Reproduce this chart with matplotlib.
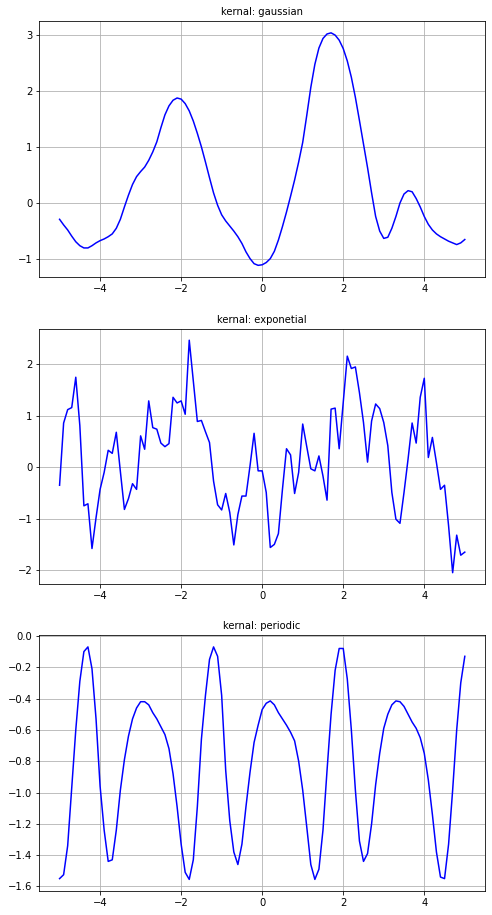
import numpy as np
import matplotlib
matplotlib.use("Agg")
import matplotlib.pyplot as plt

# sample x grid (same for all three panels)
x = np.linspace(-5, 5, 101)

# values
gaussian = [-0.29, -0.39, -0.48, -0.59, -0.69, -0.76, -0.80, -0.80, -0.76, -0.71,
            -0.67, -0.64, -0.60, -0.55, -0.45, -0.29, -0.07, 0.14, 0.33, 0.47,
            0.56, 0.64, 0.76, 0.91, 1.09, 1.34, 1.57, 1.73, 1.83, 1.87,
            1.85, 1.77, 1.64, 1.46, 1.24, 1.00, 0.73, 0.45, 0.18, -0.04,
            -0.21, -0.32, -0.41, -0.50, -0.60, -0.72, -0.87, -0.99, -1.08, -1.11,
            -1.10, -1.06, -0.99, -0.86, -0.66, -0.42, -0.16, 0.12, 0.41, 0.73,
            1.08, 1.56, 2.06, 2.47, 2.76, 2.93, 3.01, 3.03, 2.99, 2.90,
            2.75, 2.53, 2.24, 1.88, 1.47, 1.05, 0.63, 0.18, -0.24, -0.50,
            -0.63, -0.61, -0.45, -0.24, 0.00, 0.16, 0.22, 0.20, 0.08, -0.07,
            -0.24, -0.38, -0.48, -0.55, -0.60, -0.64, -0.68, -0.71, -0.74, -0.71,
            -0.65]

exponential = [-0.35, 0.86, 1.12, 1.16, 1.75, 0.81, -0.75, -0.71, -1.58, -0.98,
               -0.43, -0.10, 0.33, 0.27, 0.68, -0.08, -0.82, -0.61, -0.32, -0.43,
               0.61, 0.35, 1.29, 0.77, 0.74, 0.47, 0.40, 0.46, 1.36, 1.25,
               1.29, 1.03, 2.47, 1.68, 0.89, 0.91, 0.69, 0.48, -0.27, -0.73,
               -0.83, -0.51, -0.88, -1.51, -0.92, -0.56, -0.56, 0.03, 0.66, -0.07,
               -0.07, -0.49, -1.56, -1.50, -1.29, -0.43, 0.36, 0.24, -0.51, -0.10,
               0.84, 0.40, -0.03, -0.07, 0.22, -0.17, -0.64, 1.13, 1.15, 0.36,
               1.26, 2.16, 1.92, 1.95, 1.45, 0.87, 0.10, 0.90, 1.23, 1.14,
               0.87, 0.42, -0.49, -1.01, -1.09, -0.49, 0.16, 0.86, 0.47, 1.36,
               1.73, 0.19, 0.58, 0.09, -0.43, -0.35, -1.14, -2.05, -1.32, -1.71,
               -1.65]

periodic = [-1.55, -1.525, -1.34, -0.97, -0.60, -0.29, -0.10, -0.07, -0.21, -0.53,
            -0.96, -1.24, -1.44, -1.43, -1.24, -0.985, -0.79, -0.64, -0.53, -0.46,
            -0.42, -0.42, -0.44, -0.49, -0.53, -0.58, -0.63, -0.72, -0.88, -1.09,
            -1.33, -1.51, -1.555, -1.43, -1.09, -0.66, -0.38, -0.15, -0.07, -0.13,
            -0.38, -0.86, -1.18, -1.38, -1.46, -1.33, -1.09, -0.87, -0.68, -0.57,
            -0.47, -0.43, -0.415, -0.44, -0.49, -0.53, -0.57, -0.615, -0.67, -0.80,
            -0.985, -1.22, -1.46, -1.555, -1.49, -1.24, -0.86, -0.50, -0.22, -0.08,
            -0.08, -0.275, -0.60, -0.985, -1.31, -1.44, -1.39, -1.20, -0.95, -0.75,
            -0.59, -0.50, -0.44, -0.415, -0.42, -0.45, -0.50, -0.55, -0.59, -0.65,
            -0.75, -0.92, -1.14, -1.38, -1.54, -1.55, -1.33, -0.985, -0.60, -0.30,
            -0.13]

titles = ['kernal: gaussian', 'kernal: exponetial', 'kernal: periodic']

plt.rcParams['font.size'] = 10
fig = plt.figure(figsize=(492/72, 915/72), dpi=72)

series = [gaussian, exponential, periodic]
bottoms = [0.6973, 0.3614, 0.0262]
for ys, title, b in zip(series, titles, bottoms):
    ax = fig.add_axes([0.0799, b, 0.906, 0.2795])
    ax.plot(x, ys, color='b', linewidth=1.5)
    ax.set_title(title, fontsize=10)
    ax.grid(True)

fig.savefig('out.png', dpi=72)
